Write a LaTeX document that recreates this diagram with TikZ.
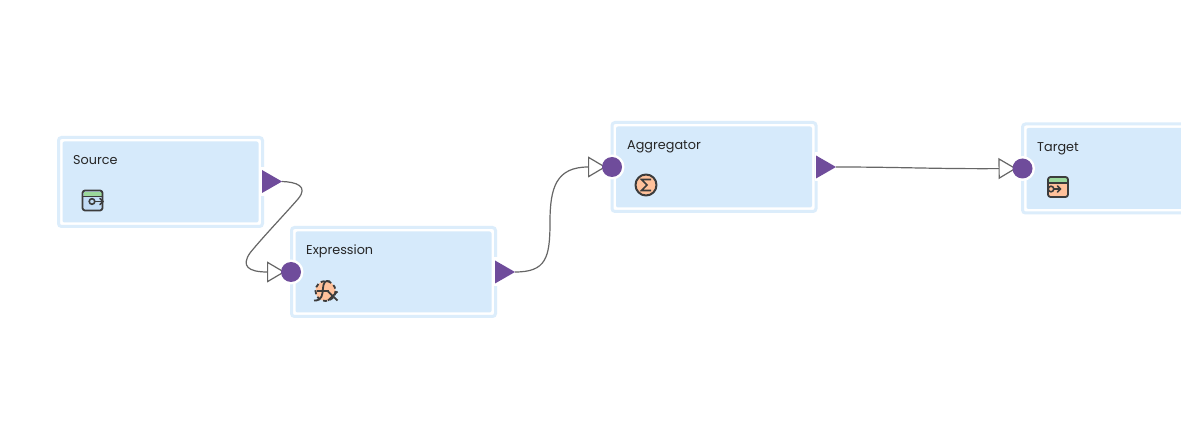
\documentclass[tikz,border=0pt]{standalone}
\usepackage{fontspec}
\setmainfont{Poppins}
\usetikzlibrary{positioning, calc, arrows.meta}
\usetikzlibrary{shapes.geometric}
\definecolor{boxedge}{HTML}{DCEDFB}
\definecolor{boxfill}{HTML}{D6EAFB}
\definecolor{portfill}{HTML}{6F4C9B}
\definecolor{linkgray}{HTML}{666666}
\definecolor{icondark}{HTML}{3C3C3C}
\definecolor{iconpeach}{HTML}{FFC19B}
\definecolor{icongreen}{HTML}{9BD89B}
\definecolor{iconblue}{HTML}{C3DCF6}
\tikzset{
	taskbox/.style = {rectangle, rounded corners=3, minimum width=204, minimum height=89, inner sep=0, draw=boxedge, line width=3, fill=white},
	taskbody/.style = {rectangle, rounded corners=2, minimum width=196, minimum height=81, inner sep=0, fill=boxfill},
	tasklabel/.style = {anchor=base west, inner sep=0, font=\fontsize{12.8}{15}\selectfont, text=black!85},
	outport/.style = {isosceles triangle, isosceles triangle stretches, minimum width=23, minimum height=20, inner sep=0, outer sep=0, anchor=lower side, fill=portfill},
	outgap/.style = {rectangle, minimum width=4, minimum height=29, inner sep=0, outer sep=0, fill=white},
	inport/.style = {circle, minimum size=20, inner sep=0, outer sep=0, fill=portfill},
	ingap/.style = {circle, minimum size=25, inner sep=0, outer sep=0, fill=white},
	link/.style = {draw=linkgray, line width=1.2, -{Triangle[open, fill=white, length=18, width=21]}},
	icon/.style = {draw=icondark, line width=1.8, line join=round, line cap=round}
}
\newcommand{\windowicon}[2]{
	\fill[#2, rounded corners=2] (#1) rectangle ++(20,20);
	\fill[icongreen] ($(#1)+(1,1.5)$) rectangle ++(18,4);
	\draw[icon, rounded corners=2.5] (#1) rectangle ++(20,20);
	\draw[icon, line width=1.3] ($(#1)+(0,6)$) -- ++(20,0);
}
\begin{document}
\begin{tikzpicture}[x=1pt, y=-1pt]
	\clip (0,0) rectangle (1181,435);
	\fill[white] (0,0) rectangle (1181,435);

	% boxes
	\node[taskbox] (source) at (160.5,182) {};
	\node[taskbody] at (source) {};
	\node[taskbox] (expression) at (393.5,272) {};
	\node[taskbody] at (expression) {};
	\node[taskbox] (aggregator) at (714,167) {};
	\node[taskbody] at (aggregator) {};
	\node[taskbox] (target) at (1124.5,168.5) {};
	\node[taskbody] at (target) {};

	% labels
	\node[tasklabel] (sourcelabel) at (73,165) {Source};
	\node[tasklabel] (expressionlabel) at (306,255) {Expression};
	\node[tasklabel] (aggregatorlabel) at (627,150) {Aggregator};
	\node[tasklabel] (targetlabel) at (1037,152) {Target};

	% gaps cut in the box edges
	\node[outgap] at (263,181.5) {};
	\node[outgap] at (496,272) {};
	\node[outgap] at (817,167) {};
	\node[ingap] (expressiongap) at (291,272) {};
	\node[ingap] (aggregatorgap) at (612,167) {};
	\node[ingap] (targetgap) at (1022.5,168.5) {};

	% output ports, then the links, then the input ports on top
	\node[outport] (sourceout) at (262,181.5) {};
	\node[outport] (expressionout) at (495,272) {};
	\node[outport] (aggregatorout) at (816,167) {};

	\draw[link] (sourceout.apex) .. controls (296,182) and (309,186) .. (298,199) .. controls (285,214) and (262,238) .. (250,253) .. controls (241,266) and (248,272) .. ([xshift=6.5]expressiongap.west);
	\draw[link] (expressionout.apex) .. controls (546,272) and (550,258) .. (550,222) .. controls (550,188) and (556,167) .. ([xshift=6.5]aggregatorgap.west);
	\draw[link] (aggregatorout.apex) .. controls (900,167) and (935,169) .. ([xshift=6.5]targetgap.west);

	\node[inport] (expressionin) at (expressiongap) {};
	\node[inport] (aggregatorin) at (aggregatorgap) {};
	\node[inport] (targetin) at (targetgap) {};

	% icons
	\windowicon{82.5,190.5}{iconblue}
	\draw[icon, line width=1.6] (92,201.5) circle (2.8);
	\draw[icon, line width=1.6] (95,201.5) -- (103,201.5);
	\draw[icon, line width=1.6] (100,198.5) -- (103,201.5) -- (100,204.5);

	\windowicon{1048,177}{iconpeach}
	\draw[icon, line width=1.6, fill=iconpeach] (1051,189) circle (2.8);
	\draw[icon, line width=1.6] (1054,189) -- (1060.5,189);
	\draw[icon, line width=1.6] (1057.5,186) -- (1060.5,189) -- (1057.5,192);

	\draw[icon, fill=iconpeach, line width=2] (646,185) circle (10.5);
	\draw[icon, line width=1.7, line cap=butt, line join=miter] (651,179.5) -- (641.5,179.5) -- (647,185) -- (641.5,190.5) -- (651,190.5);

	\fill[iconpeach] (325.5,291) circle (10);
	\draw[icon, dash pattern=on 4 off 3, line cap=butt] (325.5,291) circle (10);
	\draw[icon, line cap=butt] (330,281.5) .. controls (325,279.5) and (323.5,283) .. (323,288) .. controls (322.5,294) and (322.5,301) .. (314,300.5);
	\draw[icon, line cap=butt] (317,291) -- (329,291);
	\draw[icon, line cap=butt] (328,291.5) -- (337.5,300.5);
	\draw[icon, line cap=butt] (337.5,291.5) -- (328,300.5);
\end{tikzpicture}
\end{document}
